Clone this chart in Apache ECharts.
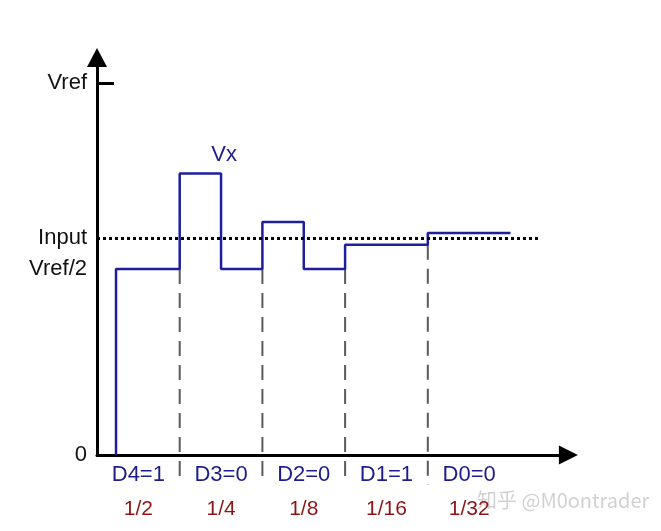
<!DOCTYPE html>
<html>
<head>
<meta charset="utf-8">
<script src="https://cdn.jsdelivr.net/npm/echarts@6/dist/echarts.min.js"></script>
<style>html,body{margin:0;padding:0;background:#fff}#c{width:661px;height:531px}</style>
</head>
<body>
<div id="c"></div>
<script>
// Vx step waveform: [time, level (in units of Vref)]
const stepTimes  = [0.23, 0.23, 1, 1.5, 2, 2.5, 3, 4, 5];
const stepLevels = [0, 0.5, 0.757, 0.5, 0.626, 0.5, 0.565, 0.597, 0.597];
// input voltage
const inputLevel = 0.583;
const inputEndTime = 5.36;
// slot boundaries (dashed) and the lower level at each boundary
const boundaryTimes  = [1, 2, 3, 4];
const boundaryLevels = [0.5, 0.5, 0.5, 0.565];
// bit labels
const slotCenters = [0.5, 1.5, 2.5, 3.5, 4.5];
const bitLabels   = ['D4=1', 'D3=0', 'D2=0', 'D1=1', 'D0=0'];
const weightLabels = ['1/2', '1/4', '1/8', '1/16', '1/32'];
// y axis labels
const yTickValues = [0, 0.5, inputLevel, 1];
const yTickLabels = ['0', 'Vref/2', 'Input', 'Vref'];

const FONT = '"Liberation Sans", Arial, sans-serif';
const chart = echarts.init(document.getElementById('c'));
chart.setOption({
  animation: false,
  backgroundColor: '#fff',
  grid: { left: 97, right: 92.6, top: 57.5, bottom: 76, outerBoundsMode: 'none', containLabel: false },
  xAxis: {
    type: 'value', min: 0, max: 5.7,
    splitLine: { show: false },
    axisLine: { show: true, onZero: false, lineStyle: { color: '#000', width: 3 },
      symbol: ['none', 'triangle'], symbolSize: [19, 19] },
    axisTick: { show: false },
    axisLabel: {
      customValues: slotCenters,
      margin: 3,
      formatter: function (v) {
        const i = slotCenters.indexOf(v);
        return '{a|' + bitLabels[i] + '}\n{b|' + weightLabels[i] + '}';
      },
      rich: {
        a: { fontFamily: FONT, fontSize: 22, color: '#1c1c8e', lineHeight: 34 },
        b: { fontFamily: FONT, fontSize: 21, color: '#8e1414', lineHeight: 34 }
      }
    }
  },
  yAxis: {
    type: 'value', min: 0, max: 1.0685,
    splitLine: { show: false },
    axisLine: { show: true, onZero: false, lineStyle: { color: '#000', width: 3 },
      symbol: ['none', 'triangle'], symbolSize: [20, 19] },
    axisTick: { show: true, customValues: [1], inside: true, length: 17, lineStyle: { color: '#000', width: 3 } },
    axisLabel: {
      customValues: yTickValues,
      margin: 10,
      fontFamily: FONT, fontSize: 22, color: '#111',
      formatter: function (v) { return yTickLabels[yTickValues.indexOf(v)]; }
    }
  },
  series: [
    {
      type: 'custom',
      z: 1,
      clip: false,
      encode: { x: 0, y: 1 },
      data: boundaryTimes.map((t, i) => [t, boundaryLevels[i]]),
      renderItem: function (params, api) {
        const top = api.coord([api.value(0), api.value(1)]);
        const bot = api.coord([api.value(0), 0]);
        return {
          type: 'line',
          shape: { x1: top[0], y1: top[1], x2: bot[0], y2: bot[1] + 30 },
          style: { stroke: '#5a5a5a', lineWidth: 2, lineDash: [15, 9] }
        };
      }
    },
    {
      type: 'line',
      z: 3,
      step: 'end',
      symbol: 'none',
      clip: false,
      data: stepTimes.map((t, i) => [t, stepLevels[i]]),
      lineStyle: { color: '#1f1f9e', width: 2.5 },
      markLine: {
        silent: true,
        symbol: ['none', 'none'],
        label: { show: false },
        lineStyle: { color: '#000', width: 3, type: [3, 3] },
        data: [[{ coord: [0, inputLevel] }, { coord: [inputEndTime, inputLevel] }]]
      },
      markPoint: {
        symbolSize: 0,
        label: { show: true, formatter: 'Vx', fontFamily: FONT, fontSize: 22, color: '#1c1c8e', position: 'inside', offset: [3, -18] },
        data: [{ coord: [1.5, 0.757] }]
      }
    }
  ],
  graphic: [
    { type: 'text', left: 477, top: 490, silent: true,
      style: { text: '知乎 @M0ontrader', fontSize: 20, fill: 'rgba(185,185,185,0.65)', fontFamily: '"Noto Sans CJK SC", "Liberation Sans", sans-serif' } }
  ]
});
</script>
</body>
</html>
